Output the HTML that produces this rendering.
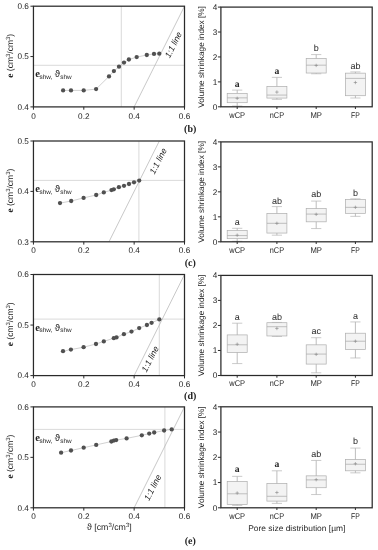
<!DOCTYPE html>
<html lang="en"><head><meta charset="utf-8"><title>Figure</title>
<style>html,body{margin:0;padding:0;background:#fff}body{width:378px;height:550px;overflow:hidden}</style></head>
<body>
<svg width="378" height="550" viewBox="0 0 378 550" style="display:block">
<rect width="378" height="550" fill="#ffffff"/>
<g font-family='"Liberation Sans", "DejaVu Sans", sans-serif' font-size="8.2" fill="#262626" text-rendering="geometricPrecision">
<g stroke="#cacaca" stroke-width="0.7" fill="none">
<line x1="33.45" y1="65.3" x2="184.5" y2="65.3"/>
<line x1="121.3" y1="6.2" x2="121.3" y2="106.9"/>
<line x1="134.15" y1="106.9" x2="184.5" y2="6.2" stroke="#b0b0b0"/>
<polyline points="63.1,90.4 71,90.4 83.7,90.4 96.1,89.1 109,76.4 113.9,71.1 119,66.7 124,62.6 128.9,59.5 136.7,57.1 146.8,55 154,53.9 159.3,53.7" stroke="#bdbdbd"/>
</g>
<g fill="#505050"><circle cx="63.1" cy="90.4" r="2.15"/><circle cx="71" cy="90.4" r="2.15"/><circle cx="83.7" cy="90.4" r="2.15"/><circle cx="96.1" cy="89.1" r="2.15"/><circle cx="109" cy="76.4" r="2.15"/><circle cx="113.9" cy="71.1" r="2.15"/><circle cx="119" cy="66.7" r="2.15"/><circle cx="124" cy="62.6" r="2.15"/><circle cx="128.9" cy="59.5" r="2.15"/><circle cx="136.7" cy="57.1" r="2.15"/><circle cx="146.8" cy="55" r="2.15"/><circle cx="154" cy="53.9" r="2.15"/><circle cx="159.3" cy="53.7" r="2.15"/></g>
<rect x="33.45" y="6.2" width="151.05" height="100.7" fill="none" stroke="#2a2a2a" stroke-width="1.25"/>
<g stroke="#2a2a2a" stroke-width="1">
<line x1="30.450000000000003" y1="106.9" x2="33.45" y2="106.9"/>
<line x1="30.450000000000003" y1="56.55" x2="33.45" y2="56.55"/>
<line x1="30.450000000000003" y1="6.2" x2="33.45" y2="6.2"/>
<line x1="33.45" y1="106.9" x2="33.45" y2="109.7"/>
<line x1="83.8" y1="106.9" x2="83.8" y2="109.7"/>
<line x1="134.15" y1="106.9" x2="134.15" y2="109.7"/>
<line x1="184.5" y1="106.9" x2="184.5" y2="109.7"/>
</g>
<text x="28.85" y="109.6" text-anchor="end">0.4</text>
<text x="28.85" y="59.25" text-anchor="end">0.5</text>
<text x="28.85" y="8.9" text-anchor="end">0.6</text>
<text x="33.45" y="118.5" text-anchor="middle">0</text>
<text x="83.8" y="118.5" text-anchor="middle">0.2</text>
<text x="134.15" y="118.5" text-anchor="middle">0.4</text>
<text x="184.5" y="118.5" text-anchor="middle">0.6</text>
<text transform="translate(13.4,55.75) rotate(-90)" text-anchor="middle" font-size="8.5"><tspan font-family='"Liberation Serif", "DejaVu Serif", serif' font-weight="bold" font-size="9.4">e</tspan> (cm<tspan dy="-3.4" font-size="6">3</tspan><tspan dy="3.4">/cm</tspan><tspan dy="-3.4" font-size="6">3</tspan><tspan dy="3.4">)</tspan></text>
<text x="35.2" y="77" font-family='"Liberation Serif", "DejaVu Serif", serif' font-weight="bold" font-size="10.6" fill="#222">e</text>
<text x="39.6" y="78.6" font-size="6.4" fill="#222">shw,</text>
<text x="54.8" y="77" font-size="9.6" fill="#222">ϑ</text>
<text x="60.2" y="78.6" font-size="6.4" fill="#222">shw</text>
<text transform="translate(173.5,44.8) rotate(-63.4)" text-anchor="middle" font-style="italic" font-size="8.6" y="2.8" fill="#222">1:1 line</text>
<text x="190.2" y="132.2" text-anchor="middle" font-family='"Liberation Serif", "DejaVu Serif", serif' font-weight="bold" font-size="10" fill="#222">(b)</text>
<g stroke="#b4b4b4" stroke-width="0.7" fill="none">
<line x1="237.2" y1="90.1" x2="237.2" y2="106.05" stroke="#a0a0a0"/>
<line x1="232.1" y1="90.1" x2="242.29999999999998" y2="90.1"/>
<line x1="232.1" y1="106.05" x2="242.29999999999998" y2="106.05"/>
<rect x="227.2" y="93.34" width="20.0" height="9.35" fill="#f3f3f3" stroke="#adadad"/>
<line x1="227.2" y1="97.83" x2="247.2" y2="97.83" stroke="#a8a8a8"/>
<path d="M235.5 98.33h3.4M237.2 96.63v3.4" stroke="#858585" stroke-width="0.6"/>
<line x1="276.9" y1="77.39" x2="276.9" y2="99.32" stroke="#a0a0a0"/>
<line x1="271.79999999999995" y1="77.39" x2="282.0" y2="77.39"/>
<line x1="271.79999999999995" y1="99.32" x2="282.0" y2="99.32"/>
<rect x="266.9" y="86.36" width="20.0" height="11.71" fill="#f3f3f3" stroke="#adadad"/>
<line x1="266.9" y1="95.09" x2="286.9" y2="95.09" stroke="#a8a8a8"/>
<path d="M275.2 92.09h3.4M276.9 90.39v3.4" stroke="#858585" stroke-width="0.6"/>
<line x1="316.2" y1="54.58" x2="316.2" y2="73.77" stroke="#a0a0a0"/>
<line x1="311.09999999999997" y1="54.58" x2="321.3" y2="54.58"/>
<line x1="311.09999999999997" y1="73.77" x2="321.3" y2="73.77"/>
<rect x="306.2" y="58.45" width="20.0" height="14.58" fill="#f3f3f3" stroke="#adadad"/>
<line x1="306.2" y1="65.18" x2="326.2" y2="65.18" stroke="#a8a8a8"/>
<path d="M314.5 65.42h3.4M316.2 63.72v3.4" stroke="#858585" stroke-width="0.6"/>
<line x1="355.4" y1="71.91" x2="355.4" y2="98" stroke="#a0a0a0"/>
<line x1="350.29999999999995" y1="71.91" x2="360.5" y2="71.91"/>
<line x1="350.29999999999995" y1="98" x2="360.5" y2="98"/>
<rect x="345.4" y="73.15" width="20.0" height="22.56" fill="#f3f3f3" stroke="#adadad"/>
<line x1="345.4" y1="78.39" x2="365.4" y2="78.39" stroke="#a8a8a8"/>
<path d="M353.7 82.5h3.4M355.4 80.8v3.4" stroke="#858585" stroke-width="0.6"/>
</g>
<rect x="220.9" y="7.1" width="151.3" height="99.7" fill="none" stroke="#2a2a2a" stroke-width="1.25"/>
<g stroke="#2a2a2a" stroke-width="1">
<line x1="217.9" y1="106.8" x2="220.9" y2="106.8"/>
<line x1="217.9" y1="81.88" x2="220.9" y2="81.88"/>
<line x1="217.9" y1="56.95" x2="220.9" y2="56.95"/>
<line x1="217.9" y1="32.02" x2="220.9" y2="32.02"/>
<line x1="217.9" y1="7.1" x2="220.9" y2="7.1"/>
<line x1="237.2" y1="106.8" x2="237.2" y2="109"/>
<line x1="276.9" y1="106.8" x2="276.9" y2="109"/>
<line x1="316.2" y1="106.8" x2="316.2" y2="109"/>
<line x1="355.4" y1="106.8" x2="355.4" y2="109"/>
</g>
<text x="217.2" y="109.6" text-anchor="end">0</text>
<text x="217.2" y="84.67" text-anchor="end">1</text>
<text x="217.2" y="59.75" text-anchor="end">2</text>
<text x="217.2" y="34.82" text-anchor="end">3</text>
<text x="217.2" y="9.9" text-anchor="end">4</text>
<text x="237.2" y="117.5" text-anchor="middle" font-size="8.4" textLength="15.8" lengthAdjust="spacingAndGlyphs">wCP</text>
<text x="276.9" y="117.5" text-anchor="middle" font-size="8.4" textLength="14.2" lengthAdjust="spacingAndGlyphs">nCP</text>
<text x="316.2" y="117.5" text-anchor="middle" font-size="8.4" textLength="11.5" lengthAdjust="spacingAndGlyphs">MP</text>
<text x="355.4" y="117.5" text-anchor="middle" font-size="8.4" textLength="8.7" lengthAdjust="spacingAndGlyphs">FP</text>
<text x="237.2" y="87" text-anchor="middle" font-family='"Liberation Serif", "DejaVu Serif", serif' font-weight="bold" font-size="9.6" fill="#222">a</text>
<text x="276.9" y="73.5" text-anchor="middle" font-family='"Liberation Serif", "DejaVu Serif", serif' font-weight="bold" font-size="9.6" fill="#222">a</text>
<text x="316.2" y="50.8" text-anchor="middle" font-size="9" fill="#2a2a2a">b</text>
<text x="355.4" y="68.7" text-anchor="middle" font-size="9" fill="#2a2a2a">ab</text>
<text transform="translate(203.5,56.95) rotate(-90)" text-anchor="middle" textLength="101.7" lengthAdjust="spacingAndGlyphs">Volume shrinkage index [%]</text>
<g stroke="#cacaca" stroke-width="0.7" fill="none">
<line x1="33.45" y1="180.4" x2="184.5" y2="180.4"/>
<line x1="138.9" y1="141.0" x2="138.9" y2="241.8"/>
<line x1="108.98" y1="241.8" x2="159.33" y2="141" stroke="#b0b0b0"/>
<polyline points="60,203.1 71.2,201 83.6,197.9 96.2,195 103.8,192.4 111.5,190.1 113.8,189.3 118.9,187.2 124,185.8 129,184 134,182.3 139.2,180.6" stroke="#bdbdbd"/>
</g>
<g fill="#505050"><circle cx="60" cy="203.1" r="2.15"/><circle cx="71.2" cy="201" r="2.15"/><circle cx="83.6" cy="197.9" r="2.15"/><circle cx="96.2" cy="195" r="2.15"/><circle cx="103.8" cy="192.4" r="2.15"/><circle cx="111.5" cy="190.1" r="2.15"/><circle cx="113.8" cy="189.3" r="2.15"/><circle cx="118.9" cy="187.2" r="2.15"/><circle cx="124" cy="185.8" r="2.15"/><circle cx="129" cy="184" r="2.15"/><circle cx="134" cy="182.3" r="2.15"/><circle cx="139.2" cy="180.6" r="2.15"/></g>
<rect x="33.45" y="141.0" width="151.05" height="100.8" fill="none" stroke="#2a2a2a" stroke-width="1.25"/>
<g stroke="#2a2a2a" stroke-width="1">
<line x1="30.450000000000003" y1="241.8" x2="33.45" y2="241.8"/>
<line x1="30.450000000000003" y1="191.4" x2="33.45" y2="191.4"/>
<line x1="30.450000000000003" y1="141" x2="33.45" y2="141"/>
<line x1="33.45" y1="241.8" x2="33.45" y2="244.6"/>
<line x1="83.8" y1="241.8" x2="83.8" y2="244.6"/>
<line x1="134.15" y1="241.8" x2="134.15" y2="244.6"/>
<line x1="184.5" y1="241.8" x2="184.5" y2="244.6"/>
</g>
<text x="28.85" y="244.5" text-anchor="end">0.3</text>
<text x="28.85" y="194.1" text-anchor="end">0.4</text>
<text x="28.85" y="143.7" text-anchor="end">0.5</text>
<text x="33.45" y="253.4" text-anchor="middle">0</text>
<text x="83.8" y="253.4" text-anchor="middle">0.2</text>
<text x="134.15" y="253.4" text-anchor="middle">0.4</text>
<text x="184.5" y="253.4" text-anchor="middle">0.6</text>
<text transform="translate(13.4,190.6) rotate(-90)" text-anchor="middle" font-size="8.5"><tspan font-family='"Liberation Serif", "DejaVu Serif", serif' font-weight="bold" font-size="9.4">e</tspan> (cm<tspan dy="-3.4" font-size="6">3</tspan><tspan dy="3.4">/cm</tspan><tspan dy="-3.4" font-size="6">3</tspan><tspan dy="3.4">)</tspan></text>
<text x="35.2" y="192" font-family='"Liberation Serif", "DejaVu Serif", serif' font-weight="bold" font-size="10.6" fill="#222">e</text>
<text x="39.6" y="193.6" font-size="6.4" fill="#222">shw,</text>
<text x="54.8" y="192" font-size="9.6" fill="#222">ϑ</text>
<text x="60.2" y="193.6" font-size="6.4" fill="#222">shw</text>
<text transform="translate(158.3,161.2) rotate(-63.4)" text-anchor="middle" font-style="italic" font-size="8.6" y="2.8" fill="#222">1:1 line</text>
<text x="190.2" y="266.2" text-anchor="middle" font-family='"Liberation Serif", "DejaVu Serif", serif' font-weight="bold" font-size="10" fill="#222">(c)</text>
<g stroke="#b4b4b4" stroke-width="0.7" fill="none">
<line x1="237.2" y1="228.31" x2="237.2" y2="241.3" stroke="#a0a0a0"/>
<line x1="232.1" y1="228.31" x2="242.29999999999998" y2="228.31"/>
<line x1="232.1" y1="241.3" x2="242.29999999999998" y2="241.3"/>
<rect x="227.2" y="230.41" width="20.0" height="8.27" fill="#f3f3f3" stroke="#adadad"/>
<line x1="227.2" y1="235.56" x2="247.2" y2="235.56" stroke="#a8a8a8"/>
<path d="M235.5 235.18h3.4M237.2 233.48v3.4" stroke="#858585" stroke-width="0.6"/>
<line x1="276.9" y1="206.59" x2="276.9" y2="235.18" stroke="#a0a0a0"/>
<line x1="271.79999999999995" y1="206.59" x2="282.0" y2="206.59"/>
<line x1="271.79999999999995" y1="235.18" x2="282.0" y2="235.18"/>
<rect x="266.9" y="213.45" width="20.0" height="19.61" fill="#f3f3f3" stroke="#adadad"/>
<line x1="266.9" y1="223.32" x2="286.9" y2="223.32" stroke="#a8a8a8"/>
<path d="M275.2 223.32h3.4M276.9 221.62v3.4" stroke="#858585" stroke-width="0.6"/>
<line x1="316.2" y1="201.09" x2="316.2" y2="228.56" stroke="#a0a0a0"/>
<line x1="311.09999999999997" y1="201.09" x2="321.3" y2="201.09"/>
<line x1="311.09999999999997" y1="228.56" x2="321.3" y2="228.56"/>
<rect x="306.2" y="208.58" width="20.0" height="13.24" fill="#f3f3f3" stroke="#adadad"/>
<line x1="306.2" y1="214.08" x2="326.2" y2="214.08" stroke="#a8a8a8"/>
<path d="M314.5 214.33h3.4M316.2 212.63v3.4" stroke="#858585" stroke-width="0.6"/>
<line x1="355.4" y1="198.84" x2="355.4" y2="216.33" stroke="#a0a0a0"/>
<line x1="350.29999999999995" y1="198.84" x2="360.5" y2="198.84"/>
<line x1="350.29999999999995" y1="216.33" x2="360.5" y2="216.33"/>
<rect x="345.4" y="199.59" width="20.0" height="13.74" fill="#f3f3f3" stroke="#adadad"/>
<line x1="345.4" y1="207.33" x2="365.4" y2="207.33" stroke="#a8a8a8"/>
<path d="M353.7 207.33h3.4M355.4 205.63v3.4" stroke="#858585" stroke-width="0.6"/>
</g>
<rect x="220.9" y="141.9" width="151.3" height="99.9" fill="none" stroke="#2a2a2a" stroke-width="1.25"/>
<g stroke="#2a2a2a" stroke-width="1">
<line x1="217.9" y1="241.8" x2="220.9" y2="241.8"/>
<line x1="217.9" y1="216.83" x2="220.9" y2="216.83"/>
<line x1="217.9" y1="191.85" x2="220.9" y2="191.85"/>
<line x1="217.9" y1="166.88" x2="220.9" y2="166.88"/>
<line x1="217.9" y1="141.9" x2="220.9" y2="141.9"/>
<line x1="237.2" y1="241.8" x2="237.2" y2="244"/>
<line x1="276.9" y1="241.8" x2="276.9" y2="244"/>
<line x1="316.2" y1="241.8" x2="316.2" y2="244"/>
<line x1="355.4" y1="241.8" x2="355.4" y2="244"/>
</g>
<text x="217.2" y="244.6" text-anchor="end">0</text>
<text x="217.2" y="219.63" text-anchor="end">1</text>
<text x="217.2" y="194.65" text-anchor="end">2</text>
<text x="217.2" y="169.68" text-anchor="end">3</text>
<text x="217.2" y="144.7" text-anchor="end">4</text>
<text x="237.2" y="252.5" text-anchor="middle" font-size="8.4" textLength="15.8" lengthAdjust="spacingAndGlyphs">wCP</text>
<text x="276.9" y="252.5" text-anchor="middle" font-size="8.4" textLength="14.2" lengthAdjust="spacingAndGlyphs">nCP</text>
<text x="316.2" y="252.5" text-anchor="middle" font-size="8.4" textLength="11.5" lengthAdjust="spacingAndGlyphs">MP</text>
<text x="355.4" y="252.5" text-anchor="middle" font-size="8.4" textLength="8.7" lengthAdjust="spacingAndGlyphs">FP</text>
<text x="237.2" y="225.4" text-anchor="middle" font-size="9" fill="#2a2a2a">a</text>
<text x="276.9" y="204.2" text-anchor="middle" font-size="9" fill="#2a2a2a">ab</text>
<text x="316.2" y="197.1" text-anchor="middle" font-size="9" fill="#2a2a2a">ab</text>
<text x="355.4" y="195.5" text-anchor="middle" font-size="9" fill="#2a2a2a">b</text>
<text transform="translate(203.5,191.85) rotate(-90)" text-anchor="middle" textLength="101.7" lengthAdjust="spacingAndGlyphs">Volume shrinkage index [%]</text>
<g stroke="#cacaca" stroke-width="0.7" fill="none">
<line x1="33.45" y1="319.1" x2="184.5" y2="319.1"/>
<line x1="159.3" y1="274.5" x2="159.3" y2="375.6"/>
<line x1="134.15" y1="375.6" x2="184.5" y2="274.5" stroke="#b0b0b0"/>
<polyline points="63,351.2 70.9,349.6 83.6,347.2 96,344 103.8,341.4 113.8,338.2 116.5,337.4 123.9,334.2 131.5,331.6 139.2,328.1 146.9,325 151.6,322.8 159.3,319.4" stroke="#bdbdbd"/>
</g>
<g fill="#505050"><circle cx="63" cy="351.2" r="2.15"/><circle cx="70.9" cy="349.6" r="2.15"/><circle cx="83.6" cy="347.2" r="2.15"/><circle cx="96" cy="344" r="2.15"/><circle cx="103.8" cy="341.4" r="2.15"/><circle cx="113.8" cy="338.2" r="2.15"/><circle cx="116.5" cy="337.4" r="2.15"/><circle cx="123.9" cy="334.2" r="2.15"/><circle cx="131.5" cy="331.6" r="2.15"/><circle cx="139.2" cy="328.1" r="2.15"/><circle cx="146.9" cy="325" r="2.15"/><circle cx="151.6" cy="322.8" r="2.15"/><circle cx="159.3" cy="319.4" r="2.15"/></g>
<rect x="33.45" y="274.5" width="151.05" height="101.1" fill="none" stroke="#2a2a2a" stroke-width="1.25"/>
<g stroke="#2a2a2a" stroke-width="1">
<line x1="30.450000000000003" y1="375.6" x2="33.45" y2="375.6"/>
<line x1="30.450000000000003" y1="325.05" x2="33.45" y2="325.05"/>
<line x1="30.450000000000003" y1="274.5" x2="33.45" y2="274.5"/>
<line x1="33.45" y1="375.6" x2="33.45" y2="378.4"/>
<line x1="83.8" y1="375.6" x2="83.8" y2="378.4"/>
<line x1="134.15" y1="375.6" x2="134.15" y2="378.4"/>
<line x1="184.5" y1="375.6" x2="184.5" y2="378.4"/>
</g>
<text x="28.85" y="378.3" text-anchor="end">0.4</text>
<text x="28.85" y="327.75" text-anchor="end">0.5</text>
<text x="28.85" y="277.2" text-anchor="end">0.6</text>
<text x="33.45" y="387.2" text-anchor="middle">0</text>
<text x="83.8" y="387.2" text-anchor="middle">0.2</text>
<text x="134.15" y="387.2" text-anchor="middle">0.4</text>
<text x="184.5" y="387.2" text-anchor="middle">0.6</text>
<text transform="translate(13.4,324.25) rotate(-90)" text-anchor="middle" font-size="8.5"><tspan font-family='"Liberation Serif", "DejaVu Serif", serif' font-weight="bold" font-size="9.4">e</tspan> (cm<tspan dy="-3.4" font-size="6">3</tspan><tspan dy="3.4">/cm</tspan><tspan dy="-3.4" font-size="6">3</tspan><tspan dy="3.4">)</tspan></text>
<text x="35.2" y="330.6" font-family='"Liberation Serif", "DejaVu Serif", serif' font-weight="bold" font-size="10.6" fill="#222">e</text>
<text x="39.6" y="332.2" font-size="6.4" fill="#222">shw,</text>
<text x="54.8" y="330.6" font-size="9.6" fill="#222">ϑ</text>
<text x="60.2" y="332.2" font-size="6.4" fill="#222">shw</text>
<text transform="translate(150.3,359.1) rotate(-63.4)" text-anchor="middle" font-style="italic" font-size="8.6" y="2.8" fill="#222">1:1 line</text>
<text x="190.2" y="399" text-anchor="middle" font-family='"Liberation Serif", "DejaVu Serif", serif' font-weight="bold" font-size="10" fill="#222">(d)</text>
<g stroke="#b4b4b4" stroke-width="0.7" fill="none">
<line x1="237.2" y1="323.2" x2="237.2" y2="363.59" stroke="#a0a0a0"/>
<line x1="232.1" y1="323.2" x2="242.29999999999998" y2="323.2"/>
<line x1="232.1" y1="363.59" x2="242.29999999999998" y2="363.59"/>
<rect x="227.2" y="334.91" width="20.0" height="17.57" fill="#f3f3f3" stroke="#adadad"/>
<line x1="227.2" y1="344.79" x2="247.2" y2="344.79" stroke="#a8a8a8"/>
<path d="M235.5 344.22h3.4M237.2 342.52v3.4" stroke="#858585" stroke-width="0.6"/>
<line x1="276.9" y1="322.45" x2="276.9" y2="336.46" stroke="#a0a0a0"/>
<line x1="271.79999999999995" y1="322.45" x2="282.0" y2="322.45"/>
<line x1="271.79999999999995" y1="336.46" x2="282.0" y2="336.46"/>
<rect x="266.9" y="322.7" width="20.0" height="13.26" fill="#f3f3f3" stroke="#adadad"/>
<line x1="266.9" y1="326.7" x2="286.9" y2="326.7" stroke="#a8a8a8"/>
<path d="M275.2 328.45h3.4M276.9 326.75v3.4" stroke="#858585" stroke-width="0.6"/>
<line x1="316.2" y1="337.71" x2="316.2" y2="372.8" stroke="#a0a0a0"/>
<line x1="311.09999999999997" y1="337.71" x2="321.3" y2="337.71"/>
<line x1="311.09999999999997" y1="372.8" x2="321.3" y2="372.8"/>
<rect x="306.2" y="344.84" width="20.0" height="19.24" fill="#f3f3f3" stroke="#adadad"/>
<line x1="306.2" y1="354.08" x2="326.2" y2="354.08" stroke="#a8a8a8"/>
<path d="M314.5 354.33h3.4M316.2 352.63v3.4" stroke="#858585" stroke-width="0.6"/>
<line x1="355.4" y1="321.95" x2="355.4" y2="357.98" stroke="#a0a0a0"/>
<line x1="350.29999999999995" y1="321.95" x2="360.5" y2="321.95"/>
<line x1="350.29999999999995" y1="357.98" x2="360.5" y2="357.98"/>
<rect x="345.4" y="333.21" width="20.0" height="16.37" fill="#f3f3f3" stroke="#adadad"/>
<line x1="345.4" y1="341.22" x2="365.4" y2="341.22" stroke="#a8a8a8"/>
<path d="M353.7 341.22h3.4M355.4 339.52v3.4" stroke="#858585" stroke-width="0.6"/>
</g>
<rect x="220.9" y="275.4" width="151.3" height="100.1" fill="none" stroke="#2a2a2a" stroke-width="1.25"/>
<g stroke="#2a2a2a" stroke-width="1">
<line x1="217.9" y1="375.5" x2="220.9" y2="375.5"/>
<line x1="217.9" y1="350.48" x2="220.9" y2="350.48"/>
<line x1="217.9" y1="325.45" x2="220.9" y2="325.45"/>
<line x1="217.9" y1="300.42" x2="220.9" y2="300.42"/>
<line x1="217.9" y1="275.4" x2="220.9" y2="275.4"/>
<line x1="237.2" y1="375.5" x2="237.2" y2="377.7"/>
<line x1="276.9" y1="375.5" x2="276.9" y2="377.7"/>
<line x1="316.2" y1="375.5" x2="316.2" y2="377.7"/>
<line x1="355.4" y1="375.5" x2="355.4" y2="377.7"/>
</g>
<text x="217.2" y="378.3" text-anchor="end">0</text>
<text x="217.2" y="353.28" text-anchor="end">1</text>
<text x="217.2" y="328.25" text-anchor="end">2</text>
<text x="217.2" y="303.22" text-anchor="end">3</text>
<text x="217.2" y="278.2" text-anchor="end">4</text>
<text x="237.2" y="386.2" text-anchor="middle" font-size="8.4" textLength="15.8" lengthAdjust="spacingAndGlyphs">wCP</text>
<text x="276.9" y="386.2" text-anchor="middle" font-size="8.4" textLength="14.2" lengthAdjust="spacingAndGlyphs">nCP</text>
<text x="316.2" y="386.2" text-anchor="middle" font-size="8.4" textLength="11.5" lengthAdjust="spacingAndGlyphs">MP</text>
<text x="355.4" y="386.2" text-anchor="middle" font-size="8.4" textLength="8.7" lengthAdjust="spacingAndGlyphs">FP</text>
<text x="237.2" y="320.4" text-anchor="middle" font-size="9" fill="#2a2a2a">a</text>
<text x="276.9" y="320.4" text-anchor="middle" font-size="9" fill="#2a2a2a">ab</text>
<text x="316.2" y="334.1" text-anchor="middle" font-size="9" fill="#2a2a2a">ac</text>
<text x="355.4" y="319" text-anchor="middle" font-size="9" fill="#2a2a2a">a</text>
<text transform="translate(203.5,325.45) rotate(-90)" text-anchor="middle" textLength="101.7" lengthAdjust="spacingAndGlyphs">Volume shrinkage index [%]</text>
<g stroke="#cacaca" stroke-width="0.7" fill="none">
<line x1="33.45" y1="429.4" x2="184.5" y2="429.4"/>
<line x1="164.9" y1="406.9" x2="164.9" y2="507.8"/>
<line x1="134.15" y1="507.8" x2="184.5" y2="406.9" stroke="#b0b0b0"/>
<polyline points="61.1,452.7 71,450.5 83.7,447.7 96.2,444.9 111.4,441.5 113.9,440.6 116.2,440.1 126.6,438.4 141.8,435.3 149.2,433.6 154.2,432.5 164.1,430.5 171.7,429.4" stroke="#bdbdbd"/>
</g>
<g fill="#505050"><circle cx="61.1" cy="452.7" r="2.15"/><circle cx="71" cy="450.5" r="2.15"/><circle cx="83.7" cy="447.7" r="2.15"/><circle cx="96.2" cy="444.9" r="2.15"/><circle cx="111.4" cy="441.5" r="2.15"/><circle cx="113.9" cy="440.6" r="2.15"/><circle cx="116.2" cy="440.1" r="2.15"/><circle cx="126.6" cy="438.4" r="2.15"/><circle cx="141.8" cy="435.3" r="2.15"/><circle cx="149.2" cy="433.6" r="2.15"/><circle cx="154.2" cy="432.5" r="2.15"/><circle cx="164.1" cy="430.5" r="2.15"/><circle cx="171.7" cy="429.4" r="2.15"/></g>
<rect x="33.45" y="406.9" width="151.05" height="100.9" fill="none" stroke="#2a2a2a" stroke-width="1.25"/>
<g stroke="#2a2a2a" stroke-width="1">
<line x1="30.450000000000003" y1="507.8" x2="33.45" y2="507.8"/>
<line x1="30.450000000000003" y1="457.35" x2="33.45" y2="457.35"/>
<line x1="30.450000000000003" y1="406.9" x2="33.45" y2="406.9"/>
<line x1="33.45" y1="507.8" x2="33.45" y2="510.6"/>
<line x1="83.8" y1="507.8" x2="83.8" y2="510.6"/>
<line x1="134.15" y1="507.8" x2="134.15" y2="510.6"/>
<line x1="184.5" y1="507.8" x2="184.5" y2="510.6"/>
</g>
<text x="28.85" y="510.5" text-anchor="end">0.4</text>
<text x="28.85" y="460.05" text-anchor="end">0.5</text>
<text x="28.85" y="409.6" text-anchor="end">0.6</text>
<text x="33.45" y="519.4" text-anchor="middle">0</text>
<text x="83.8" y="519.4" text-anchor="middle">0.2</text>
<text x="134.15" y="519.4" text-anchor="middle">0.4</text>
<text x="184.5" y="519.4" text-anchor="middle">0.6</text>
<text transform="translate(13.4,456.55) rotate(-90)" text-anchor="middle" font-size="8.5"><tspan font-family='"Liberation Serif", "DejaVu Serif", serif' font-weight="bold" font-size="9.4">e</tspan> (cm<tspan dy="-3.4" font-size="6">3</tspan><tspan dy="3.4">/cm</tspan><tspan dy="-3.4" font-size="6">3</tspan><tspan dy="3.4">)</tspan></text>
<text x="35.2" y="441.2" font-family='"Liberation Serif", "DejaVu Serif", serif' font-weight="bold" font-size="10.6" fill="#222">e</text>
<text x="39.6" y="442.8" font-size="6.4" fill="#222">shw,</text>
<text x="54.8" y="441.2" font-size="9.6" fill="#222">ϑ</text>
<text x="60.2" y="442.8" font-size="6.4" fill="#222">shw</text>
<text transform="translate(152.8,487.6) rotate(-63.4)" text-anchor="middle" font-style="italic" font-size="8.6" y="2.8" fill="#222">1:1 line</text>
<text x="190.2" y="544.4" text-anchor="middle" font-family='"Liberation Serif", "DejaVu Serif", serif' font-weight="bold" font-size="10" fill="#222">(e)</text>
<g stroke="#b4b4b4" stroke-width="0.7" fill="none">
<line x1="237.2" y1="476.36" x2="237.2" y2="505.4" stroke="#a0a0a0"/>
<line x1="232.1" y1="476.36" x2="242.29999999999998" y2="476.36"/>
<line x1="232.1" y1="505.4" x2="242.29999999999998" y2="505.4"/>
<rect x="227.2" y="481.51" width="20.0" height="22.95" fill="#f3f3f3" stroke="#adadad"/>
<line x1="227.2" y1="493.79" x2="247.2" y2="493.79" stroke="#a8a8a8"/>
<path d="M235.5 493.03h3.4M237.2 491.33v3.4" stroke="#858585" stroke-width="0.6"/>
<line x1="276.9" y1="470.81" x2="276.9" y2="503.38" stroke="#a0a0a0"/>
<line x1="271.79999999999995" y1="470.81" x2="282.0" y2="470.81"/>
<line x1="271.79999999999995" y1="503.38" x2="282.0" y2="503.38"/>
<rect x="266.9" y="483.53" width="20.0" height="17.57" fill="#f3f3f3" stroke="#adadad"/>
<line x1="266.9" y1="496.31" x2="286.9" y2="496.31" stroke="#a8a8a8"/>
<path d="M275.2 492.52h3.4M276.9 490.82v3.4" stroke="#858585" stroke-width="0.6"/>
<line x1="316.2" y1="460.46" x2="316.2" y2="494.54" stroke="#a0a0a0"/>
<line x1="311.09999999999997" y1="460.46" x2="321.3" y2="460.46"/>
<line x1="311.09999999999997" y1="494.54" x2="321.3" y2="494.54"/>
<rect x="306.2" y="475.86" width="20.0" height="11.87" fill="#f3f3f3" stroke="#adadad"/>
<line x1="306.2" y1="479.9" x2="326.2" y2="479.9" stroke="#a8a8a8"/>
<path d="M314.5 479.65h3.4M316.2 477.95v3.4" stroke="#858585" stroke-width="0.6"/>
<line x1="355.4" y1="448.08" x2="355.4" y2="472.83" stroke="#a0a0a0"/>
<line x1="350.29999999999995" y1="448.08" x2="360.5" y2="448.08"/>
<line x1="350.29999999999995" y1="472.83" x2="360.5" y2="472.83"/>
<rect x="345.4" y="459.45" width="20.0" height="11.36" fill="#f3f3f3" stroke="#adadad"/>
<line x1="345.4" y1="464.24" x2="365.4" y2="464.24" stroke="#a8a8a8"/>
<path d="M353.7 463.74h3.4M355.4 462.04v3.4" stroke="#858585" stroke-width="0.6"/>
</g>
<rect x="220.9" y="406.8" width="151.3" height="101" fill="none" stroke="#2a2a2a" stroke-width="1.25"/>
<g stroke="#2a2a2a" stroke-width="1">
<line x1="217.9" y1="507.8" x2="220.9" y2="507.8"/>
<line x1="217.9" y1="482.55" x2="220.9" y2="482.55"/>
<line x1="217.9" y1="457.3" x2="220.9" y2="457.3"/>
<line x1="217.9" y1="432.05" x2="220.9" y2="432.05"/>
<line x1="217.9" y1="406.8" x2="220.9" y2="406.8"/>
<line x1="237.2" y1="507.8" x2="237.2" y2="510"/>
<line x1="276.9" y1="507.8" x2="276.9" y2="510"/>
<line x1="316.2" y1="507.8" x2="316.2" y2="510"/>
<line x1="355.4" y1="507.8" x2="355.4" y2="510"/>
</g>
<text x="217.2" y="510.6" text-anchor="end">0</text>
<text x="217.2" y="485.35" text-anchor="end">1</text>
<text x="217.2" y="460.1" text-anchor="end">2</text>
<text x="217.2" y="434.85" text-anchor="end">3</text>
<text x="217.2" y="409.6" text-anchor="end">4</text>
<text x="237.2" y="518.5" text-anchor="middle" font-size="8.4" textLength="15.8" lengthAdjust="spacingAndGlyphs">wCP</text>
<text x="276.9" y="518.5" text-anchor="middle" font-size="8.4" textLength="14.2" lengthAdjust="spacingAndGlyphs">nCP</text>
<text x="316.2" y="518.5" text-anchor="middle" font-size="8.4" textLength="11.5" lengthAdjust="spacingAndGlyphs">MP</text>
<text x="355.4" y="518.5" text-anchor="middle" font-size="8.4" textLength="8.7" lengthAdjust="spacingAndGlyphs">FP</text>
<text x="237.2" y="472.2" text-anchor="middle" font-family='"Liberation Serif", "DejaVu Serif", serif' font-weight="bold" font-size="9.6" fill="#222">a</text>
<text x="276.9" y="466.7" text-anchor="middle" font-family='"Liberation Serif", "DejaVu Serif", serif' font-weight="bold" font-size="9.6" fill="#222">a</text>
<text x="316.2" y="457" text-anchor="middle" font-size="9" fill="#2a2a2a">ab</text>
<text x="355.4" y="444.3" text-anchor="middle" font-size="9" fill="#2a2a2a">b</text>
<text transform="translate(203.5,457.3) rotate(-90)" text-anchor="middle" textLength="101.7" lengthAdjust="spacingAndGlyphs">Volume shrinkage index [%]</text>
<text x="109.2" y="530.2" text-anchor="middle" font-size="8.8"><tspan font-size="9.4">ϑ</tspan> [cm<tspan dy="-3.4" font-size="6">3</tspan><tspan dy="3.4">/cm</tspan><tspan dy="-3.4" font-size="6">3</tspan><tspan dy="3.4">]</tspan></text>
<text x="296.8" y="530.8" text-anchor="middle" textLength="97.3" lengthAdjust="spacingAndGlyphs">Pore size distribution [µm]</text>
</g></svg>
</body></html>
